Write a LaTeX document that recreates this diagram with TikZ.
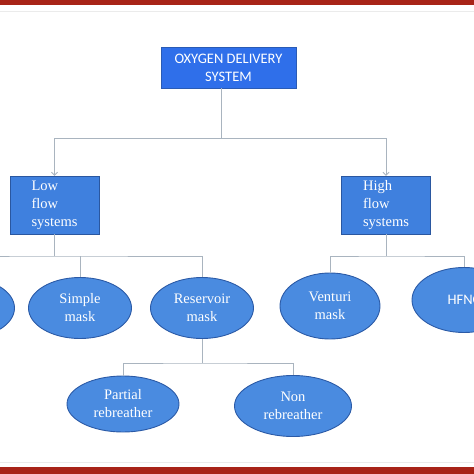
\documentclass[tikz,border=0pt]{standalone}
\usepackage{fontspec}
\setmainfont{Liberation Serif}
\newfontfamily\calibri{Carlito}
\usepackage{xcolor}
\usetikzlibrary{arrows.meta,positioning,calc,shapes.geometric}

\definecolor{rootblue}{HTML}{2F6FEA}
\definecolor{rootedge}{HTML}{2A5BB5}
\definecolor{boxblue}{HTML}{3F80DE}
\definecolor{boxedge}{HTML}{2A57A0}
\definecolor{ovalblue}{HTML}{4A8BE0}
\definecolor{ovaledge}{HTML}{2B5AA6}
\definecolor{linegray}{HTML}{A9B4BF}
\definecolor{bandred}{HTML}{A82418}
\definecolor{pagegray}{HTML}{EBEBEB}

\begin{document}
\begin{tikzpicture}[
  x=1pt,y=-1pt,
  link/.style={draw=linegray,line width=0.8pt},
  flow/.style={link,-{Straight Barb[length=3pt,width=6pt]}},
  rootbox/.style={draw=rootedge,fill=rootblue,text=white,
    minimum width=135pt,minimum height=41pt,inner sep=0pt,
    align=center,font=\calibri\fontsize{14.5}{18}\selectfont},
  groupbox/.style={draw=boxedge,fill=boxblue,text=white,
    minimum width=89pt,minimum height=58pt,inner sep=0pt,
    align=left,font=\fontsize{14.5}{18}\selectfont},
  device/.style={ellipse,draw=ovaledge,fill=ovalblue,text=white,
    line width=0.9pt,inner sep=0pt,minimum width=103pt,
    minimum height=61pt,align=center,
    font=\fontsize{14.5}{18}\selectfont}
]
  \useasboundingbox (0,0) rectangle (474,474);
  \clip (0,0) rectangle (474,474);

  % page frame
  \fill[bandred] (0,0) rectangle (474,5);
  \fill[bandred] (0,467) rectangle (474,474);
  \draw[pagegray] (0,11) -- (474,11);
  \draw[pagegray] (0,462) -- (474,462);

  \node[rootbox] (root) at (228.5,67.5) {OXYGEN DELIVERY\\SYSTEM};
  \node[groupbox] (low) at (54.5,205) {Low\\flow\\systems};
  \node[groupbox] (high) at (386,205) {High\\flow\\systems};

  \node[device] (cannula) at (-37,308) {};
  \node[device] (simple) at (80,308) {Simple\\mask};
  \node[device] (reservoir) at (202,308) {Reservoir\\mask};
  \node[device,minimum width=100pt,minimum height=66pt] (venturi)
    at (330,306) {Venturi\\mask};
  \node[device,minimum width=104pt,minimum height=65pt,
    font=\calibri\fontsize{14.5}{18}\selectfont] (hfnc) at (464,300) {HFNC};
  \node[device,minimum width=112pt,minimum height=56pt] (partial)
    at (123,404) {Partial\\rebreather};
  \node[device,minimum width=117pt,minimum height=61pt] (nonreb)
    at (293,406) {Non\\rebreather};

  \coordinate (root-split) at (221,138);
  \coordinate (low-split) at (54.5,256);
  \coordinate (high-split) at (386,256);
  \coordinate (res-split) at (202,363);

  \draw[link] (root-split |- root.south) -- (root-split);
  \draw[flow] (root-split) -| (low);
  \draw[flow] (root-split) -| (high);

  \draw[link] (low) -- (low-split);
  \draw[link] (cannula) |- (low-split) -| (reservoir);
  \draw[link] (simple) -- (simple |- low-split);

  \draw[link] (high) -- (high-split);
  \draw[link] (venturi) |- (high-split) -| (hfnc);

  \draw[link] (reservoir) -- (res-split);
  \draw[link] (partial) |- (res-split) -| (nonreb);
\end{tikzpicture}
\end{document}
